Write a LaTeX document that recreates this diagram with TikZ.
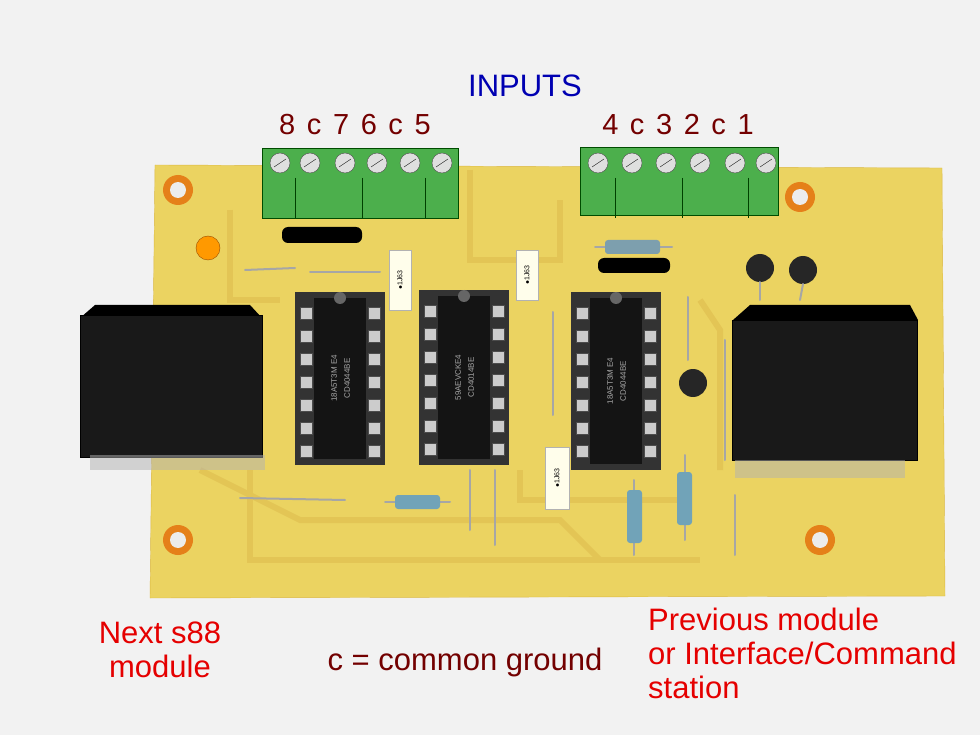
\documentclass[tikz,border=0pt]{standalone}
\usepackage{fontspec}
\setmainfont{Liberation Sans}
\begin{document}
\begin{tikzpicture}[x=1pt,y=-1pt,
  pin/.style={fill=gray!40,draw=gray!60!black,line width=0.5pt},
  rpack/.style={fill=white!92!yellow,draw=gray!60},
  term/.style={fill=green!55!black!70!white,draw=green!30!black},
  screw/.style={fill=gray!25,draw=gray!60!black},
  jack/.style={fill=black!90,draw=black},
  wire/.style={draw=gray!70,line width=2pt,line cap=round},
  trace/.style={draw=yellow!45!brown!85,line width=6pt},
  chiptxt/.style={rotate=90,text=gray!70,font=\footnotesize,inner sep=0pt},
  lbl/.style={font=\fontsize{29}{33}\selectfont,text=red!45!black},
  red lbl/.style={font=\fontsize{31}{34}\selectfont,text=red!90!black,align=left}]
\useasboundingbox (0,0) rectangle (980,735);
\fill[gray!10] (0,0) rectangle (980,735);
% board
\fill[yellow!55!brown!75!white,draw=yellow!40!brown] (155,165) -- (942,168) -- (945,596) -- (150,598) -- cycle;
% traces
\draw[trace] (230,210) -- (230,300) -- (280,300);
\draw[trace] (470,170) -- (470,260) -- (560,260) -- (560,200);
\draw[trace] (200,470) -- (300,520) -- (560,520) -- (600,560);
\draw[trace] (700,300) -- (720,330) -- (720,470);
\draw[trace] (250,470) -- (250,560) -- (700,560);
\draw[trace] (520,470) -- (520,500) -- (690,500);
% holes
\foreach \p in {(178,190),(800,197),(178,540),(820,540)}{
  \fill[orange!60!brown] \p circle (15);
  \fill[white!85!gray] \p circle (8);}
% terminals
\node[term,minimum width=196pt,minimum height=70pt] (tl) at (360,183) {};
\node[term,minimum width=198pt,minimum height=68pt] (tr) at (679,181) {};
\foreach \x in {280,310,345,377,410,442}{\draw[screw] (\x,163) circle (10);\draw (\x-6,167)--(\x+6,159);}
\foreach \x in {598,632,666,700,735,766}{\draw[screw] (\x,163) circle (10);\draw (\x-6,167)--(\x+6,159);}
\foreach \x in {295,362,425,615,682,748}{\draw[green!25!black] (\x,178) -- (\x,218);}
% black bars
\fill[black,rounded corners=6pt] (282,227) rectangle (362,243);
\fill[black,rounded corners=6pt] (598,258) rectangle (670,273);
% capacitor
\fill[orange!80!yellow,draw=orange!60!black] (208,248) circle (12);
% wires
\draw[wire] (245,270) -- (295,268);
\draw[wire] (310,272) -- (380,272);
\draw[wire] (240,498) -- (345,500);
\draw[wire] (553,312) -- (553,415);
\draw[wire] (688,297) -- (688,360);
\draw[wire] (470,470) -- (470,530);
\draw[wire] (495,470) -- (495,545);
\draw[wire] (735,495) -- (735,555);
\draw[wire] (725,340) -- (725,460);
% resistors
\draw[wire] (385,502) -- (450,502);
\fill[cyan!40!gray,rounded corners=3pt] (395,495) rectangle (440,509);
\draw[wire] (595,247) -- (672,247);
\fill[cyan!30!gray,rounded corners=3pt] (605,240) rectangle (660,254);
\draw[wire] (634,480) -- (634,555);
\fill[cyan!40!gray,rounded corners=3pt] (627,490) rectangle (642,543);
\draw[wire] (685,455) -- (685,540);
\fill[cyan!40!gray,rounded corners=3pt] (677,472) rectangle (692,525);
% resistor packs
\node[rpack,minimum width=22pt,minimum height=60pt] (rp1) at (400,280) {};
\node[rotate=90,font=\scriptsize] at (rp1) {$\bullet$1J63};
\node[rpack,minimum width=22pt,minimum height=50pt] (rp2) at (527,275) {};
\node[rotate=90,font=\scriptsize] at (rp2) {$\bullet$1J63};
\node[rpack,minimum width=24pt,minimum height=62pt] (rp3) at (557,478) {};
\node[rotate=90,font=\scriptsize] at (rp3) {$\bullet$1J63};
% chips
\foreach \cx/\ya/\yb/\ta/\tb in {340/292/465/CD4044BE/18A5T3M E4, 464/290/465/CD4014BE/59AEVCKE4, 616/292/470/CD4044BE/18A5T3M E4}{
  \fill[black!80] (\cx-45,\ya) rectangle (\cx+45,\yb);
  \foreach \i in {0,...,6}{
    \draw[pin] (\cx-40,\ya+15+\i*23) rectangle (\cx-28,\ya+27+\i*23);
    \draw[pin] (\cx+28,\ya+15+\i*23) rectangle (\cx+40,\ya+27+\i*23);}
  \fill[black!92] (\cx-26,\ya+6) rectangle (\cx+26,\yb-6);
  \fill[black!60] (\cx,\ya+6) circle (6);
  \node[chiptxt] at (\cx-6,{(\ya+\yb)/2}) {\tb};
  \node[chiptxt] at (\cx+7,{(\ya+\yb)/2}) {\ta};
}
% jacks
\fill[black] (80,318) -- (95,305) -- (250,305) -- (262,318) -- cycle;
\node[jack,minimum width=182pt,minimum height=142pt] (jl) at (171,386) {};
\fill[gray!60,opacity=0.5] (90,455) rectangle (265,470);
\node[jack,minimum width=185pt,minimum height=140pt] (jr) at (825,390) {};
\fill[gray!60,opacity=0.5] (735,460) rectangle (905,478);
\fill[black] (733,320) -- (750,305) -- (910,305) -- (918,320) -- cycle;
% transistors
\foreach \p in {(760,268),(803,270),(693,383)}{\fill[black!85] \p circle (14);}
\draw[wire] (760,282) -- (760,300);\draw[wire] (803,284) -- (800,300);
% labels
\node[font=\fontsize{31}{34}\selectfont,text=blue!70!black] (inp) at (525,86) {INPUTS};
\node[lbl] (gl) at (355,125) {8\hspace{0.4em}c\hspace{0.4em}7\hspace{0.4em}6\hspace{0.4em}c\hspace{0.4em}5};
\node[lbl] (gr) at (678,125) {4\hspace{0.4em}c\hspace{0.4em}3\hspace{0.4em}2\hspace{0.4em}c\hspace{0.4em}1};
\node[red lbl,align=center] (nx) at (160,650) {Next s88\\module};
\node[lbl,font=\fontsize{31}{34}\selectfont] (cg) at (465,662) {c = common ground};
\node[red lbl,anchor=north west,inner sep=0pt] (pv) at (648,608) {Previous module\\or Interface/Command\\station};
\end{tikzpicture}
\end{document}
